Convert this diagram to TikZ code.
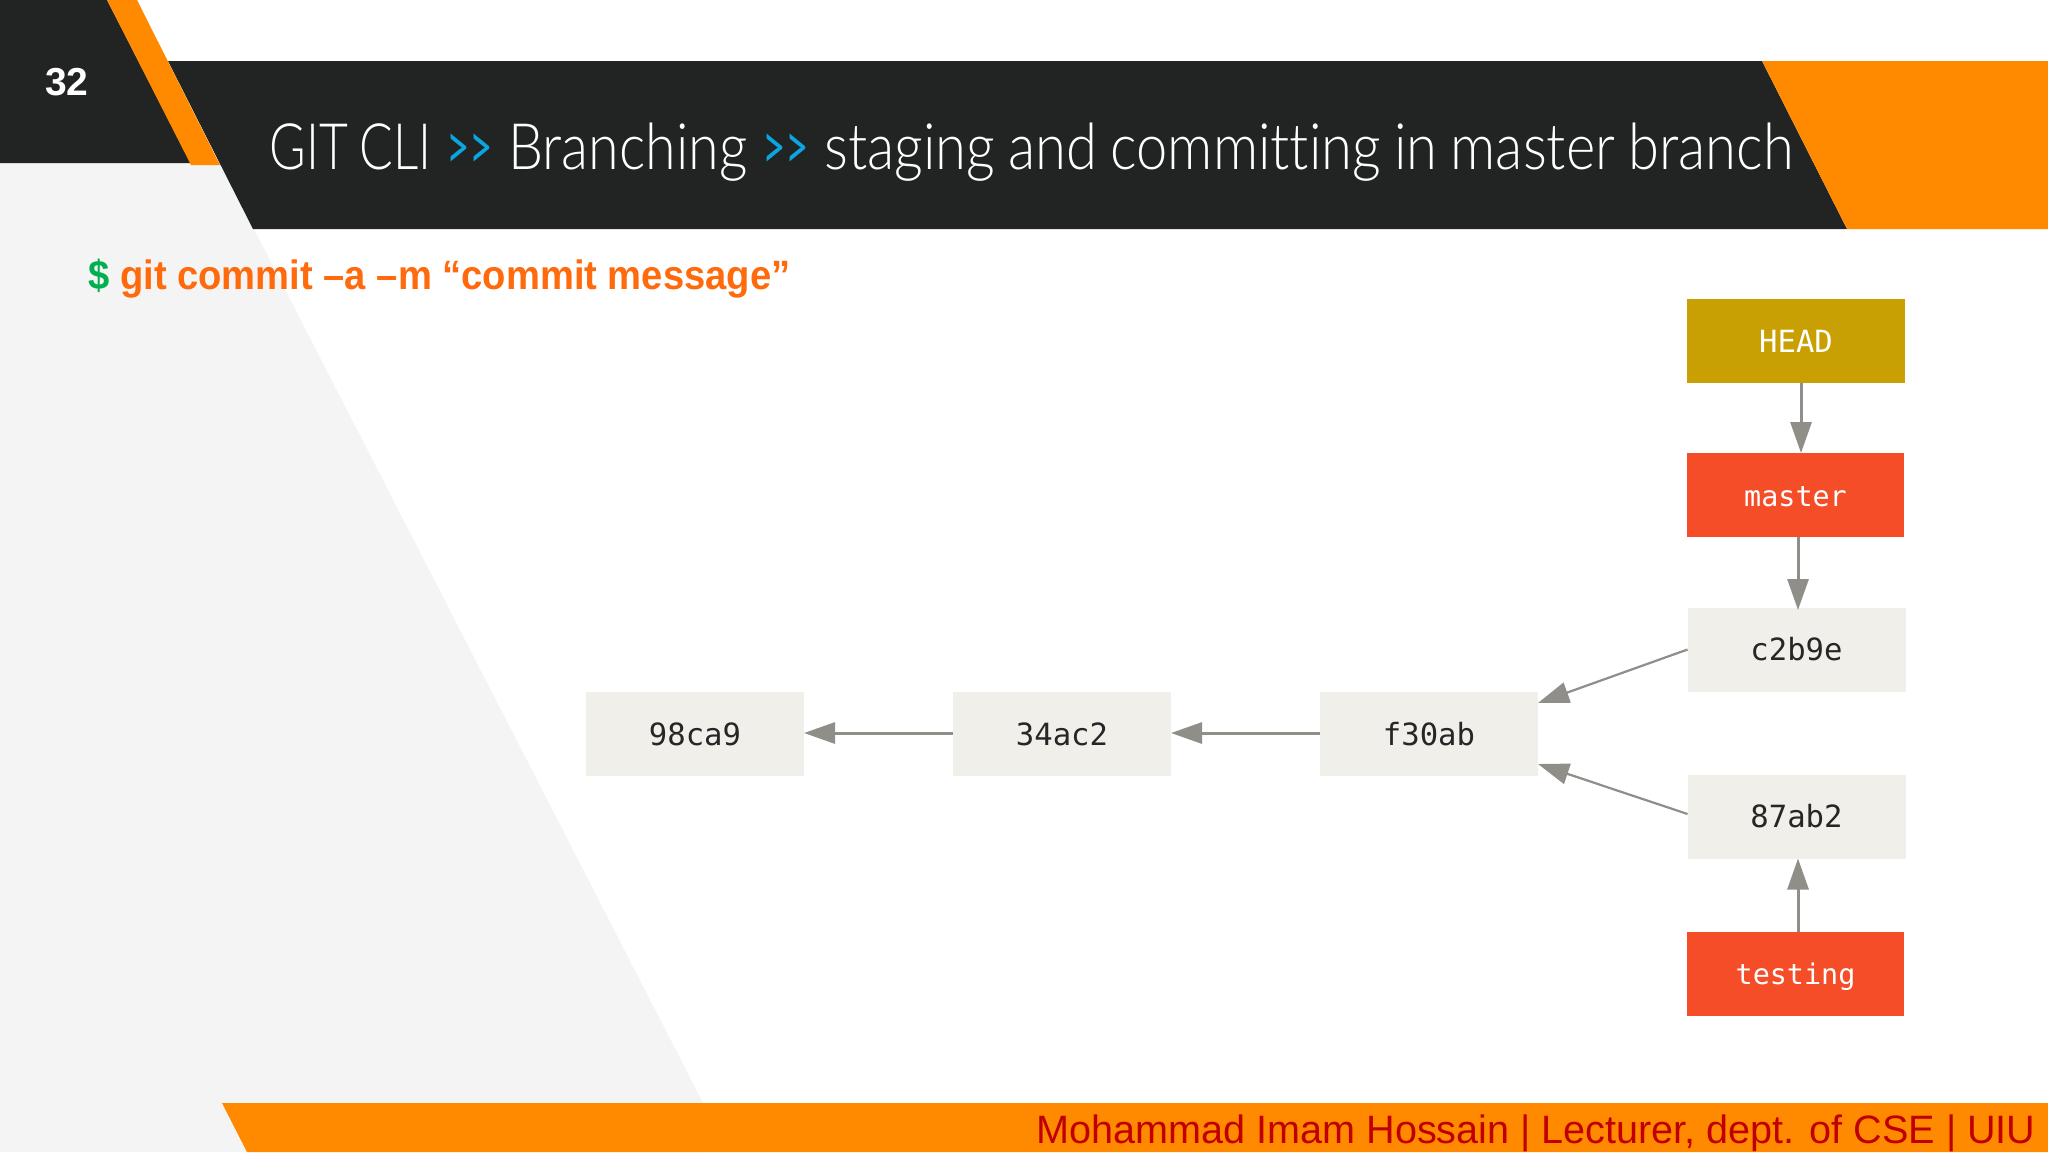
\documentclass[tikz,border=0pt]{standalone}
\usepackage{fontspec}
\usepackage{graphicx}
\setmainfont{Liberation Sans}
\newfontfamily\titlefont[Ligatures=NoCommon]{Lato Light}
\newfontfamily\sepfont{Lato}
\newfontfamily\monofont{DejaVu Sans Mono}
\usetikzlibrary{arrows.meta}
\definecolor{darkbar}{HTML}{222323}
\definecolor{orangebar}{HTML}{FF8A00}
\definecolor{greyback}{HTML}{F4F4F4}
\definecolor{bluesep}{HTML}{0BA5E0}
\definecolor{cmdgreen}{HTML}{00B050}
\definecolor{cmdorange}{HTML}{FF6A0D}
\definecolor{footred}{HTML}{C00000}
\definecolor{commitfill}{HTML}{F0EFEA}
\definecolor{headfill}{HTML}{C9A003}
\definecolor{branchfill}{HTML}{F44D27}
\definecolor{arrowgrey}{HTML}{8F8E88}
\newcommand{\titlesep}{\resizebox{23.5pt}{\height}{\sepfont\textcolor{bluesep}{>>}}}
\tikzset{
  gitbox/.style={rectangle,inner sep=0pt,outer sep=0pt,minimum height=42pt,text height=11.5pt,text depth=0.5pt,font=\monofont\fontsize{15.3}{15.3}\selectfont},
  commit/.style={gitbox,fill=commitfill,text=black!85,minimum width=109pt},
  branch/.style={gitbox,fill=branchfill,text=white,minimum width=108.5pt,font=\monofont\fontsize{14.2}{14.2}\selectfont},
  headbox/.style={gitbox,fill=headfill,text=white,minimum width=109pt},
  link/.style={draw=arrowgrey,line width=1.5pt,-{Triangle[length=15.5pt,width=10.5pt,fill=arrowgrey]}},
  thinlink/.style={link,line width=1.1pt},
}
\begin{document}
\begin{tikzpicture}[x=0.5pt,y=-0.5pt]
\useasboundingbox (0,0) rectangle (2048,1152);
\fill[white] (0,0) rectangle (2048,1152);
% background shapes
\fill[greyback] (0,163) -- (220,163) -- (703,1103) -- (703,1152) -- (0,1152) -- cycle;
\fill[darkbar] (168,61) -- (1762,61) -- (1847,229) -- (253,229) -- cycle;
\fill[orangebar] (1762,61) -- (2048,61) -- (2048,229) -- (1847,229) -- cycle;
\fill[darkbar] (0,0) -- (107,0) -- (191,163) -- (0,163) -- cycle;
\fill[orangebar] (107,0) -- (137,0) -- (220,165) -- (191,165) -- cycle;
\fill[orangebar] (222,1103) -- (2048,1103) -- (2048,1152) -- (247,1152) -- cycle;
% texts
\node[anchor=base,text=white,font=\bfseries\fontsize{19.5}{19.5}\selectfont] (num) at (67,95) {32};
\node[anchor=base west,inner sep=0pt,font=\titlefont\fontsize{32}{32}\selectfont,text=white] (title) at (269,169)
  {\spaceskip=7.5pt\relax \resizebox{81pt}{\height}{GIT CLI} \titlesep{} \resizebox{119.5pt}{\height}{Branching} \titlesep{} \resizebox{484.5pt}{\height}{staging and committing in master branch}};
\node[anchor=base west,inner sep=0pt,font=\bfseries\fontsize{20.5}{20.5}\selectfont,text=cmdorange] (cmd) at (88,289)
  {\resizebox{351pt}{\height}{\textcolor{cmdgreen}{\$} git commit –a –m “commit message”}};
\node[anchor=base east,inner sep=0pt,font=\fontsize{19.8}{19.8}\selectfont,text=footred] (foot) at (2036,1143)
  {Mohammad Imam Hossain | Lecturer, dept. of CSE | UIU};
% commits
\node[commit] (a) at (695,734) {98ca9};
\node[commit] (b) at (1062,734) {34ac2};
\node[commit] (c) at (1429,734) {f30ab};
\node[commit] (d) at (1796.5,649.5) {c2b9e};
\node[commit] (e) at (1796.5,816.5) {87ab2};
\node[headbox] (head) at (1796,341) {HEAD};
\node[branch] (master) at (1795.5,495) {master};
\node[branch] (testing) at (1795.5,973.5) {testing};
% connectors
\draw[link] ([xshift=2.5pt]head.south) -- ([xshift=2.75pt]master.north);
\draw[link] ([xshift=1.25pt]master.south) -- ([xshift=.75pt,yshift=-1.25pt]d.north);
\draw[link] ([xshift=1.25pt]testing.north) -- ([xshift=.75pt]e.south);
\draw[link] ([yshift=.5pt]b.west) -- ([yshift=.5pt]a.east);
\draw[link] ([yshift=.5pt]c.west) -- ([yshift=.5pt]b.east);
\draw[thinlink] (d.west) -- ([yshift=15.5pt]c.east);
\draw[thinlink] ([yshift=1.25pt]e.west) -- ([yshift=-15pt]c.east);
\end{tikzpicture}
\end{document}
